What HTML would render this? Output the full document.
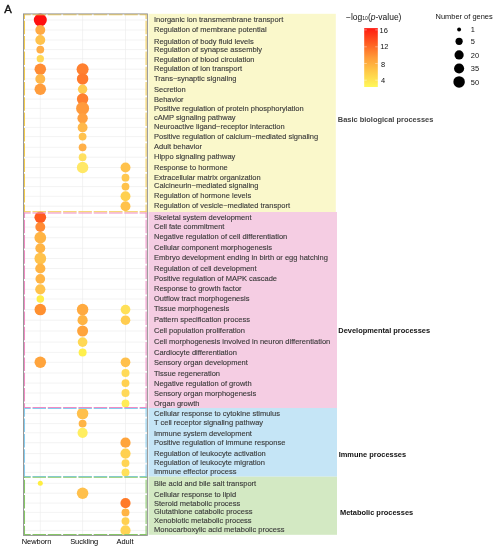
<!DOCTYPE html><html><head><meta charset="utf-8"><style>html,body{margin:0;padding:0;background:#fff;width:498px;height:550px;overflow:hidden}svg{display:block}text{font-family:"Liberation Sans", Arial, sans-serif}</style></head><body>
<svg width="498" height="550" viewBox="0 0 498 550">
<rect width="498" height="550" fill="#fff"/>
<rect x="148.5" y="13.8" width="187.3" height="198.2" fill="#FAF8CB"/>
<rect x="148.5" y="212.0" width="188.5" height="196.0" fill="#F5CDE3"/>
<rect x="148.5" y="408.0" width="188.5" height="68.69999999999999" fill="#C5E5F6"/>
<rect x="148.5" y="476.7" width="188.5" height="58.099999999999966" fill="#D3E9C3"/>
<path d="M23.5 20.0H147.4 M23.5 30.0H147.4 M23.5 40.0H147.4 M23.5 49.6H147.4 M23.5 58.7H147.4 M23.5 69.2H147.4 M23.5 78.9H147.4 M23.5 89.2H147.4 M23.5 99.1H147.4 M23.5 108.4H147.4 M23.5 118.3H147.4 M23.5 127.4H147.4 M23.5 136.6H147.4 M23.5 147.3H147.4 M23.5 157.2H147.4 M23.5 167.5H147.4 M23.5 177.7H147.4 M23.5 186.6H147.4 M23.5 196.3H147.4 M23.5 206.2H147.4 M23.5 217.3H147.4 M23.5 227.1H147.4 M23.5 237.7H147.4 M23.5 248.3H147.4 M23.5 258.5H147.4 M23.5 268.5H147.4 M23.5 278.9H147.4 M23.5 289.3H147.4 M23.5 299.0H147.4 M23.5 309.6H147.4 M23.5 320.2H147.4 M23.5 331.0H147.4 M23.5 342.1H147.4 M23.5 352.4H147.4 M23.5 362.3H147.4 M23.5 373.0H147.4 M23.5 383.1H147.4 M23.5 393.0H147.4 M23.5 403.4H147.4 M23.5 413.6H147.4 M23.5 423.6H147.4 M23.5 432.8H147.4 M23.5 442.7H147.4 M23.5 453.6H147.4 M23.5 463.1H147.4 M23.5 472.4H147.4 M23.5 483.3H147.4 M23.5 493.2H147.4 M23.5 503.1H147.4 M23.5 512.4H147.4 M23.5 521.1H147.4 M23.5 530.4H147.4 M40.3 13.9V535.4 M82.6 13.9V535.4 M125.5 13.9V535.4" stroke="#EBEBEB" stroke-width="0.6" fill="none"/>
<circle cx="40.3" cy="20.0" r="6.50" fill="#FF1010"/>
<circle cx="40.3" cy="30.0" r="4.95" fill="#FFAA44"/>
<circle cx="40.3" cy="40.0" r="4.95" fill="#FFC24C"/>
<circle cx="40.3" cy="49.6" r="3.90" fill="#FFAE48"/>
<circle cx="40.3" cy="58.7" r="3.65" fill="#FFD856"/>
<circle cx="40.3" cy="69.2" r="5.75" fill="#FF8C34"/>
<circle cx="40.3" cy="78.9" r="4.95" fill="#FFB84A"/>
<circle cx="40.3" cy="89.2" r="5.75" fill="#FF9C3C"/>
<circle cx="82.6" cy="69.2" r="6.00" fill="#FF8030"/>
<circle cx="82.6" cy="78.9" r="5.75" fill="#FF7A2C"/>
<circle cx="82.6" cy="89.2" r="4.70" fill="#FFCC50"/>
<circle cx="82.6" cy="99.1" r="5.75" fill="#FF8030"/>
<circle cx="82.6" cy="108.4" r="6.50" fill="#FF9A3C"/>
<circle cx="82.6" cy="118.3" r="5.20" fill="#FFA040"/>
<circle cx="82.6" cy="127.4" r="4.95" fill="#FFB84A"/>
<circle cx="82.6" cy="136.6" r="3.90" fill="#FFC24E"/>
<circle cx="82.6" cy="147.3" r="3.90" fill="#FFB048"/>
<circle cx="82.6" cy="157.2" r="3.90" fill="#FFE060"/>
<circle cx="82.6" cy="167.5" r="5.75" fill="#FFE866"/>
<circle cx="125.5" cy="167.5" r="4.95" fill="#FFC24C"/>
<circle cx="125.5" cy="177.7" r="3.90" fill="#FFC850"/>
<circle cx="125.5" cy="186.6" r="3.90" fill="#FFC24C"/>
<circle cx="125.5" cy="196.3" r="4.95" fill="#FFD050"/>
<circle cx="125.5" cy="206.2" r="4.95" fill="#FFC24C"/>
<circle cx="40.3" cy="217.3" r="5.85" fill="#FF5A1E"/>
<circle cx="40.3" cy="227.1" r="4.95" fill="#FF8A34"/>
<circle cx="40.3" cy="237.7" r="5.85" fill="#FFB444"/>
<circle cx="40.3" cy="248.3" r="4.95" fill="#FFB444"/>
<circle cx="40.3" cy="258.5" r="5.85" fill="#FFC24C"/>
<circle cx="40.3" cy="268.5" r="5.10" fill="#FFB444"/>
<circle cx="40.3" cy="278.9" r="4.85" fill="#FFB444"/>
<circle cx="40.3" cy="289.3" r="5.10" fill="#FFC24C"/>
<circle cx="40.3" cy="299.0" r="3.75" fill="#FFEE48"/>
<circle cx="40.3" cy="309.6" r="5.75" fill="#FF9030"/>
<circle cx="82.6" cy="309.6" r="5.75" fill="#FFAA40"/>
<circle cx="82.6" cy="320.2" r="5.10" fill="#FFB444"/>
<circle cx="82.6" cy="331.0" r="5.50" fill="#FFA43C"/>
<circle cx="82.6" cy="342.1" r="4.85" fill="#FFD854"/>
<circle cx="82.6" cy="352.4" r="4.00" fill="#FFF04C"/>
<circle cx="125.5" cy="309.6" r="4.85" fill="#FFE058"/>
<circle cx="125.5" cy="320.2" r="4.80" fill="#FFCC50"/>
<circle cx="40.3" cy="362.3" r="5.75" fill="#FFA43C"/>
<circle cx="125.5" cy="362.3" r="4.85" fill="#FFC04C"/>
<circle cx="125.5" cy="373.0" r="4.00" fill="#FFDA58"/>
<circle cx="125.5" cy="383.1" r="3.95" fill="#FFD050"/>
<circle cx="125.5" cy="393.0" r="4.00" fill="#FFD858"/>
<circle cx="125.5" cy="403.4" r="3.90" fill="#FFEC58"/>
<circle cx="82.6" cy="413.6" r="5.75" fill="#FFC04C"/>
<circle cx="82.6" cy="423.6" r="3.95" fill="#FFB444"/>
<circle cx="82.6" cy="432.8" r="5.10" fill="#FFEE60"/>
<circle cx="125.5" cy="442.7" r="5.10" fill="#FFA43C"/>
<circle cx="125.5" cy="453.6" r="5.10" fill="#FFD050"/>
<circle cx="125.5" cy="463.1" r="3.95" fill="#FFD454"/>
<circle cx="125.5" cy="472.4" r="3.95" fill="#FFE05A"/>
<circle cx="40.3" cy="483.3" r="2.50" fill="#FFEE40"/>
<circle cx="82.6" cy="493.2" r="5.75" fill="#FFC04C"/>
<circle cx="125.5" cy="503.1" r="5.10" fill="#FF7A28"/>
<circle cx="125.5" cy="512.4" r="3.95" fill="#FFB444"/>
<circle cx="125.5" cy="521.1" r="3.95" fill="#FFD050"/>
<circle cx="125.5" cy="530.4" r="5.10" fill="#FFD454"/>
<path d="M24.0 14.8H146.6M24.0 211.8H146.6" stroke="#F2CB4E" stroke-width="1.05" fill="none" stroke-dasharray="13.5 1.8" stroke-dashoffset="6.80"/>
<path d="M24.5 14.3V212.3M146.1 14.3V212.3" stroke="#F2CB4E" stroke-width="1.05" fill="none" stroke-dasharray="13.5 1.8" stroke-dashoffset="8.80"/>
<path d="M24.0 212.9H146.6M24.0 407.4H146.6" stroke="#F08CC4" stroke-width="1.05" fill="none" stroke-dasharray="13.5 1.8" stroke-dashoffset="6.80"/>
<path d="M24.5 212.4V407.9M146.1 212.4V407.9" stroke="#F08CC4" stroke-width="1.05" fill="none" stroke-dasharray="13.5 1.8" stroke-dashoffset="8.00"/>
<path d="M24.0 408.5H146.6M24.0 476.4H146.6" stroke="#86CCEE" stroke-width="1.05" fill="none" stroke-dasharray="13.5 1.8" stroke-dashoffset="6.80"/>
<path d="M24.5 408.0V476.9M146.1 408.0V476.9" stroke="#86CCEE" stroke-width="1.05" fill="none" stroke-dasharray="13.5 1.8" stroke-dashoffset="4.70"/>
<path d="M24.0 477.3H146.6M24.0 534.6H146.6" stroke="#86C866" stroke-width="1.05" fill="none" stroke-dasharray="13.5 1.8" stroke-dashoffset="6.80"/>
<path d="M24.5 476.8V535.1M146.1 476.8V535.1" stroke="#86C866" stroke-width="1.05" fill="none" stroke-dasharray="13.5 1.8" stroke-dashoffset="12.30"/>
<rect x="23.5" y="13.9" width="123.9" height="521.5" fill="none" stroke="#8E8E8E" stroke-width="0.9"/>
<g font-size="7.5" fill="#3A3A3A" stroke="#3A3A3A" stroke-width="0.12">
<text x="154.0" y="22">Inorganic ion transmembrane transport</text>
<text x="154.0" y="32">Regulation of membrane potential</text>
<text x="154.0" y="44">Regulation of body fluid levels</text>
<text x="154.0" y="52">Regulation of synapse assembly</text>
<text x="154.0" y="62">Regulation of blood circulation</text>
<text x="154.0" y="71">Regulation of ion transport</text>
<text x="154.0" y="81">Trans−synaptic signaling</text>
<text x="154.0" y="92">Secretion</text>
<text x="154.0" y="102">Behavior</text>
<text x="154.0" y="111">Positive regulation of protein phosphorylation</text>
<text x="154.0" y="120">cAMP signaling pathway</text>
<text x="154.0" y="129">Neuroactive ligand−receptor interaction</text>
<text x="154.0" y="139">Positive regulation of calcium−mediated signaling</text>
<text x="154.0" y="149">Adult behavior</text>
<text x="154.0" y="159">Hippo signaling pathway</text>
<text x="154.0" y="170">Response to hormone</text>
<text x="154.0" y="180">Extracellular matrix organization</text>
<text x="154.0" y="188">Calcineurin−mediated signaling</text>
<text x="154.0" y="198">Regulation of hormone levels</text>
<text x="154.0" y="208">Regulation of vesicle−mediated transport</text>
<text x="154.0" y="220">Skeletal system development</text>
<text x="154.0" y="229">Cell fate commitment</text>
<text x="154.0" y="239">Negative regulation of cell differentiation</text>
<text x="154.0" y="250">Cellular component morphogenesis</text>
<text x="154.0" y="260">Embryo development ending in birth or egg hatching</text>
<text x="154.0" y="271">Regulation of cell development</text>
<text x="154.0" y="281">Positive regulation of MAPK cascade</text>
<text x="154.0" y="291">Response to growth factor</text>
<text x="154.0" y="301">Outflow tract morphogenesis</text>
<text x="154.0" y="311">Tissue morphogenesis</text>
<text x="154.0" y="322">Pattern specification process</text>
<text x="154.0" y="333">Cell population proliferation</text>
<text x="154.0" y="344">Cell morphogenesis involved in neuron differentiation</text>
<text x="154.0" y="355">Cardiocyte differentiation</text>
<text x="154.0" y="365">Sensory organ development</text>
<text x="154.0" y="376">Tissue regeneration</text>
<text x="154.0" y="386">Negative regulation of growth</text>
<text x="154.0" y="396">Sensory organ morphogenesis</text>
<text x="154.0" y="406">Organ growth</text>
<text x="154.0" y="416">Cellular response to cytokine stimulus</text>
<text x="154.0" y="425">T cell receptor signaling pathway</text>
<text x="154.0" y="436">Immune system development</text>
<text x="154.0" y="445">Positive regulation of immune response</text>
<text x="154.0" y="456">Regulation of leukocyte activation</text>
<text x="154.0" y="465">Regulation of leukocyte migration</text>
<text x="154.0" y="474">Immune effector process</text>
<text x="154.0" y="486">Bile acid and bile salt transport</text>
<text x="154.0" y="497">Cellular response to lipid</text>
<text x="154.0" y="506">Steroid metabolic process</text>
<text x="154.0" y="514">Glutathione catabolic process</text>
<text x="154.0" y="523">Xenobiotic metabolic process</text>
<text x="154.0" y="532">Monocarboxylic acid metabolic process</text>
</g>
<text x="337.8" y="122" font-size="7.45" font-weight="bold" fill="#444444">Basic biological processes</text>
<text x="338.3" y="333" font-size="7.45" font-weight="bold" fill="#111111">Developmental processes</text>
<text x="338.7" y="457" font-size="7.45" font-weight="bold" fill="#111111">Immune processes</text>
<text x="340.0" y="515" font-size="7.45" font-weight="bold" fill="#111111">Metabolic processes</text>
<g font-size="7.45" fill="#000" text-anchor="middle">
<text x="36.6" y="544">Newborn</text>
<text x="84.2" y="544">Suckling</text>
<text x="125.0" y="544">Adult</text>
</g>
<text x="4.2" y="13" font-size="11.3" fill="#111" stroke="#111" stroke-width="0.35">A</text>
<defs><linearGradient id="cg" x1="0" y1="1" x2="0" y2="0"><stop offset="0" stop-color="#FFF85A"/><stop offset="0.25" stop-color="#FFCC48"/><stop offset="0.5" stop-color="#FF9A38"/><stop offset="0.75" stop-color="#FF5A20"/><stop offset="1" stop-color="#FF1A10"/></linearGradient></defs>
<text x="346.0" y="20" font-size="8.5" fill="#111">−log<tspan font-size="5">10</tspan>(<tspan font-style="italic">p</tspan>-value)</text>
<rect x="364.2" y="28.1" width="13.6" height="58.9" fill="url(#cg)"/>
<path d="M364.2 29.9h2.6M375.2 29.9h2.6M364.2 46.8h2.6M375.2 46.8h2.6M364.2 63.5h2.6M375.2 63.5h2.6M364.2 80.2h2.6M375.2 80.2h2.6" stroke="#fff" stroke-width="0.5" opacity="0.8"/>
<g font-size="7.45" fill="#111">
<text x="379.6" y="33">16</text>
<text x="380.2" y="49">12</text>
<text x="380.9" y="67">8</text>
<text x="380.9" y="83">4</text>
</g>
<text x="435.6" y="19" font-size="7.45" fill="#111">Number of genes</text>
<circle cx="459.1" cy="29.5" r="1.95" fill="#000"/>
<circle cx="459.1" cy="41.3" r="3.6" fill="#000"/>
<circle cx="459.1" cy="54.9" r="4.6" fill="#000"/>
<circle cx="459.1" cy="68.5" r="5.05" fill="#000"/>
<circle cx="459.1" cy="81.9" r="5.75" fill="#000"/>
<g font-size="7.45" fill="#111">
<text x="470.8" y="32.2">1</text>
<text x="470.8" y="44.0">5</text>
<text x="470.8" y="57.6">20</text>
<text x="470.8" y="71.2">35</text>
<text x="470.8" y="84.60000000000001">50</text>
</g>
</svg></body></html>
